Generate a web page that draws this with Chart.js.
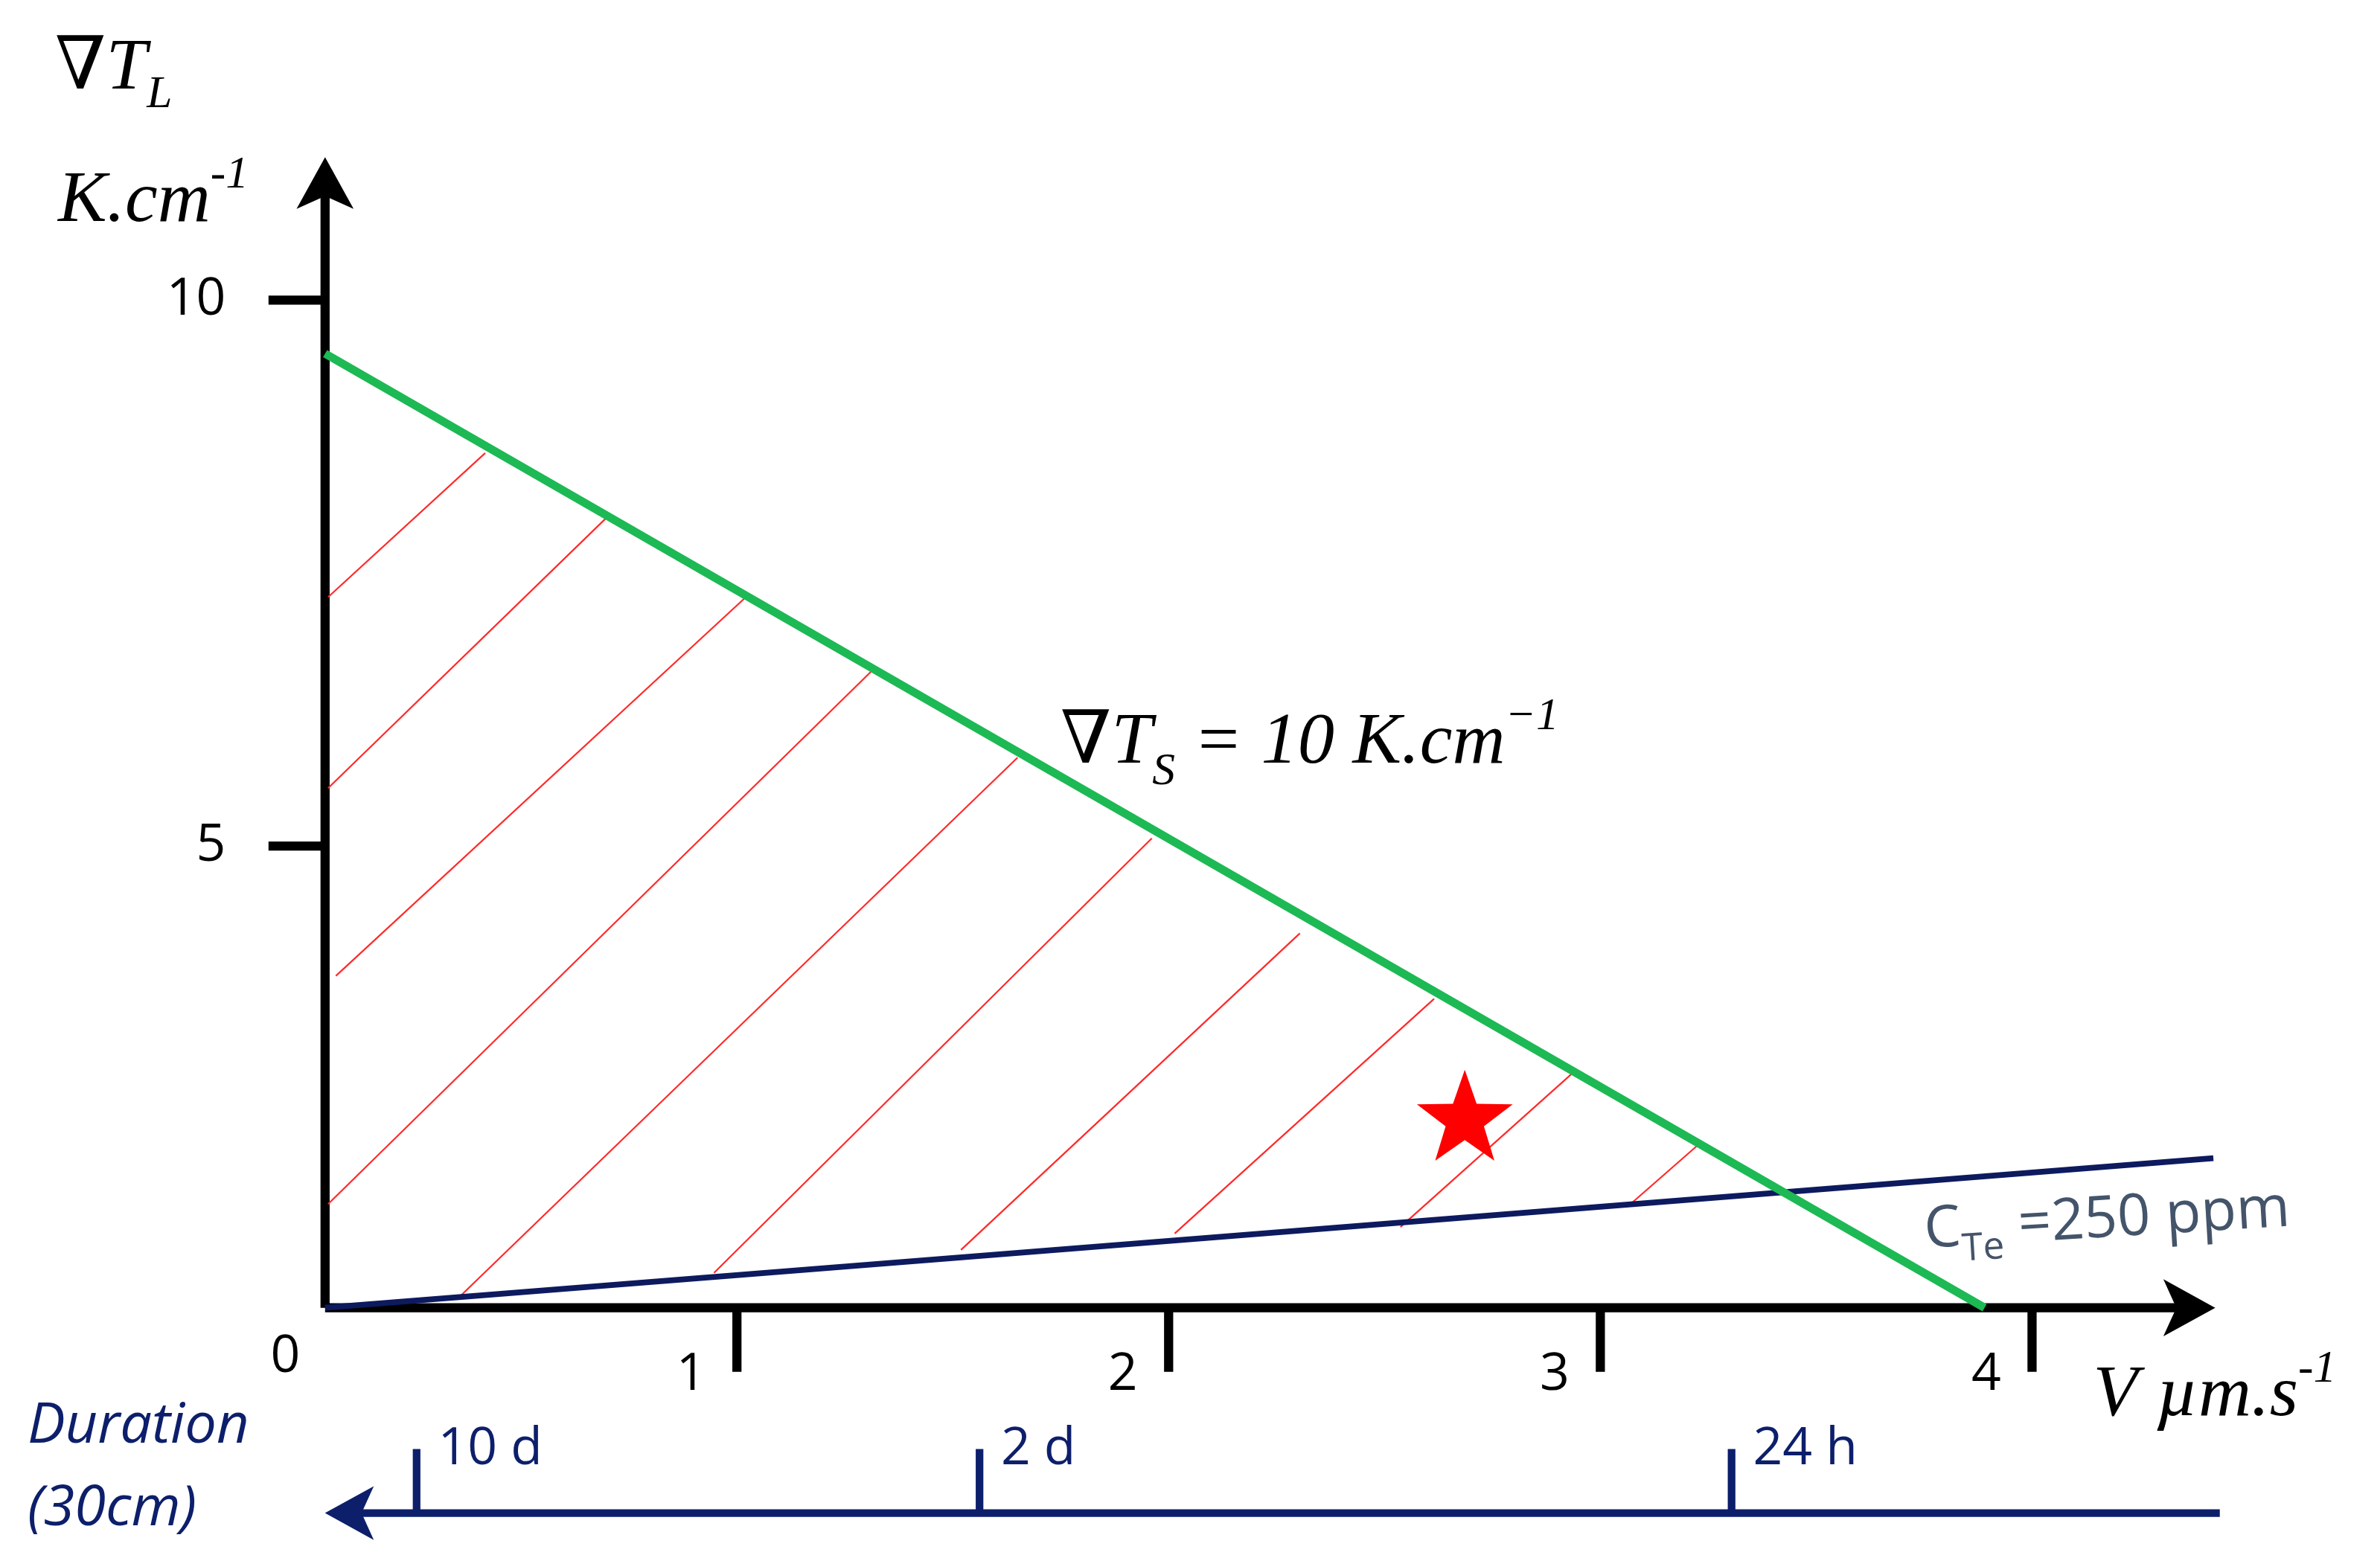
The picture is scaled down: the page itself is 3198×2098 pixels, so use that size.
<!DOCTYPE html>
<html>
<head>
<meta charset="utf-8">
<script src="https://cdn.jsdelivr.net/npm/chart.js@4"></script>
<style>
  html, body { margin: 0; padding: 0; background: #fff; overflow: hidden; }
  canvas { display: block; }
</style>
</head>
<body>
<canvas id="chart" width="3198" height="2098"></canvas>
<script>
// schematic values (x in µm/s, y in K/cm)
var greenLine = [{x: 0.046, y: 9.51}, {x: 3.89, y: 0.77}];
var blueLine = [{x: 0.046, y: 0.77}, {x: 4.42, y: 2.14}];
var hatchLines = [
    [0.053, 7.28, 0.417, 8.60],
    [0.053, 5.53, 0.696, 8.00],
    [0.071, 3.81, 1.018, 7.27],
    [0.053, 1.72, 1.314, 6.61],
    [0.360, 0.88, 1.650, 5.81],
    [0.947, 1.09, 1.961, 5.07],
    [1.519, 1.30, 2.304, 4.20],
    [2.014, 1.45, 2.615, 3.60],
    [2.537, 1.51, 2.933, 2.91],
    [3.067, 1.71, 3.223, 2.25]
];
var starPoint = {x: 2.686, y: 2.49};
var xTicks = [1, 2, 3, 4];
var xTickLabels = ['1', '2', '3', '4'];
var yTicks = [5, 10];
var yTickLabels = ['5', '10'];
var durationTicks = [0.258, 1.562, 3.304];
var durationLabels = ['10 d', '2 d', '24 h'];

var baseY = 0.77;      // where the V axis is drawn
var xMin = -0.707, xMax = 4.806, yMin = -1.55, yMax = 12.75;
var NAVY = '#0d1f6b';

var datasets = [
    {data: greenLine, borderColor: '#1db954', borderWidth: 11, order: 0},
    {data: blueLine, borderColor: '#0d1a5e', borderWidth: 8, order: 1}
];
hatchLines.forEach(function (h) {
    datasets.push({
        data: [{x: h[0], y: h[1]}, {x: h[2], y: h[3]}],
        borderColor: '#ff2a2a', borderWidth: 2.2, order: 2
    });
});

function arrowHead(ctx, x, y, dir, size, color) {
    ctx.save();
    ctx.translate(x, y);
    ctx.rotate(dir);
    ctx.fillStyle = color;
    ctx.beginPath();
    ctx.moveTo(0, 0);
    ctx.lineTo(-size, -size * 0.55);
    ctx.lineTo(-size * 0.75, 0);
    ctx.lineTo(-size, size * 0.55);
    ctx.closePath();
    ctx.fill();
    ctx.restore();
}

// draws a run of [text, font, dy] pieces one after another
function richText(ctx, x, y, parts) {
    parts.forEach(function (p) {
        ctx.font = p[1];
        ctx.fillText(p[0], x, y + (p[2] || 0));
        x += ctx.measureText(p[0]).width;
    });
}

var decor = {
    id: 'decor',
    beforeDatasetsDraw: function (chart) {
        var ctx = chart.ctx, xs = chart.scales.x, ys = chart.scales.y;
        var s = chart.width / 1560;
        var x0 = xs.getPixelForValue(0.046), y0 = ys.getPixelForValue(baseY);
        ctx.save();
        ctx.strokeStyle = '#000';
        ctx.lineWidth = 6 * s;
        ctx.beginPath();
        ctx.moveTo(x0, y0);
        ctx.lineTo(x0, 118 * s);
        ctx.moveTo(x0, y0);
        ctx.lineTo(1430 * s, y0);
        ctx.stroke();
        arrowHead(ctx, x0, 103 * s, -Math.PI / 2, 34 * s, '#000');
        arrowHead(ctx, 1452 * s, y0, 0, 34 * s, '#000');
        ctx.restore();
    },
    afterDatasetsDraw: function (chart) {
        var ctx = chart.ctx, xs = chart.scales.x, ys = chart.scales.y;
        var s = chart.width / 1560;
        var x0 = xs.getPixelForValue(0.046), y0 = ys.getPixelForValue(baseY);
        ctx.save();
        ctx.strokeStyle = '#000';
        ctx.fillStyle = '#000';
        ctx.lineWidth = 6 * s;
        ctx.font = (34 * s) + 'px "Open Sans"';
        ctx.textAlign = 'right';
        ctx.textBaseline = 'middle';
        yTicks.forEach(function (v, i) {
            var py = ys.getPixelForValue(v);
            ctx.beginPath();
            ctx.moveTo(176 * s, py);
            ctx.lineTo(x0, py);
            ctx.stroke();
            ctx.fillText(yTickLabels[i], 148 * s, py);
        });
        ctx.textAlign = 'center';
        xTicks.forEach(function (v, i) {
            var px = xs.getPixelForValue(v);
            ctx.beginPath();
            ctx.moveTo(px, y0);
            ctx.lineTo(px, y0 + 42 * s);
            ctx.stroke();
            ctx.fillText(xTickLabels[i], px - 30 * s, y0 + 44 * s);
        });
        ctx.fillText('0', 187 * s, 890 * s);

        // star
        var sx = xs.getPixelForValue(starPoint.x), sy = ys.getPixelForValue(starPoint.y);
        var R = 33 * s, r = R * 0.4;
        ctx.fillStyle = '#ff0000';
        ctx.beginPath();
        for (var k = 0; k < 10; k++) {
            var rad = k % 2 ? r : R, a = -Math.PI / 2 + k * Math.PI / 5;
            ctx.lineTo(sx + rad * Math.cos(a), sy + rad * Math.sin(a));
        }
        ctx.closePath();
        ctx.fill();

        // serif labels
        ctx.fillStyle = '#000';
        ctx.textAlign = 'left';
        ctx.textBaseline = 'alphabetic';
        var big = 'italic ' + (48 * s) + 'px "Liberation Serif"';
        var nab = (48 * s) + 'px "DejaVu Serif"';
        var sub = 'italic ' + (30 * s) + 'px "Liberation Serif"';
        richText(ctx, 36 * s, 58 * s, [['\u2207', nab], ['T', big], ['L', sub, 12 * s]]);
        richText(ctx, 38 * s, 145 * s, [['K.cm', big], ['-1', sub, -22 * s]]);
        richText(ctx, 695 * s, 500 * s, [['\u2207', nab], ['T', big], ['S', sub, 14 * s],
            [' = 10 K.cm', big], ['\u22121', sub, -22 * s]]);
        richText(ctx, 1372 * s, 928 * s, [['V \u00b5m.s', big], ['-1', sub, -22 * s]]);

        // C_Te label
        ctx.save();
        ctx.translate(1262 * s, 818 * s);
        ctx.rotate(-0.06);
        ctx.fillStyle = '#44546a';
        richText(ctx, 0, 0, [['C', (38 * s) + 'px "Open Sans"'],
            ['Te', (25 * s) + 'px "Open Sans"', 10 * s],
            [' =250 ppm', (38 * s) + 'px "Open Sans"']]);
        ctx.restore();

        // duration axis
        ctx.strokeStyle = NAVY;
        ctx.fillStyle = NAVY;
        ctx.lineWidth = 5 * s;
        ctx.beginPath();
        ctx.moveTo(1455 * s, 992 * s);
        ctx.lineTo(235 * s, 992 * s);
        ctx.stroke();
        arrowHead(ctx, 213 * s, 992 * s, Math.PI, 32 * s, NAVY);
        ctx.font = (34 * s) + 'px "Open Sans"';
        durationTicks.forEach(function (v, i) {
            var px = xs.getPixelForValue(v);
            ctx.beginPath();
            ctx.moveTo(px, 950 * s);
            ctx.lineTo(px, 994 * s);
            ctx.stroke();
            ctx.fillText(durationLabels[i], px + 14 * s, 960 * s);
        });
        ctx.font = 'italic ' + (37 * s) + 'px "Open Sans"';
        ctx.fillText('Duration', 18 * s, 946 * s);
        ctx.fillText('(30cm)', 18 * s, 1000 * s);
        ctx.restore();
    }
};

new Chart(document.getElementById('chart'), {
    type: 'line',
    data: {datasets: datasets},
    options: {
        responsive: false,
        animation: false,
        devicePixelRatio: 1,
        layout: {padding: 0},
        elements: {point: {radius: 0}, line: {tension: 0}},
        plugins: {legend: {display: false}, tooltip: {enabled: false}},
        scales: {
            x: {type: 'linear', min: xMin, max: xMax, display: false},
            y: {type: 'linear', min: yMin, max: yMax, display: false}
        }
    },
    plugins: [decor]
});
</script>
</body>
</html>
